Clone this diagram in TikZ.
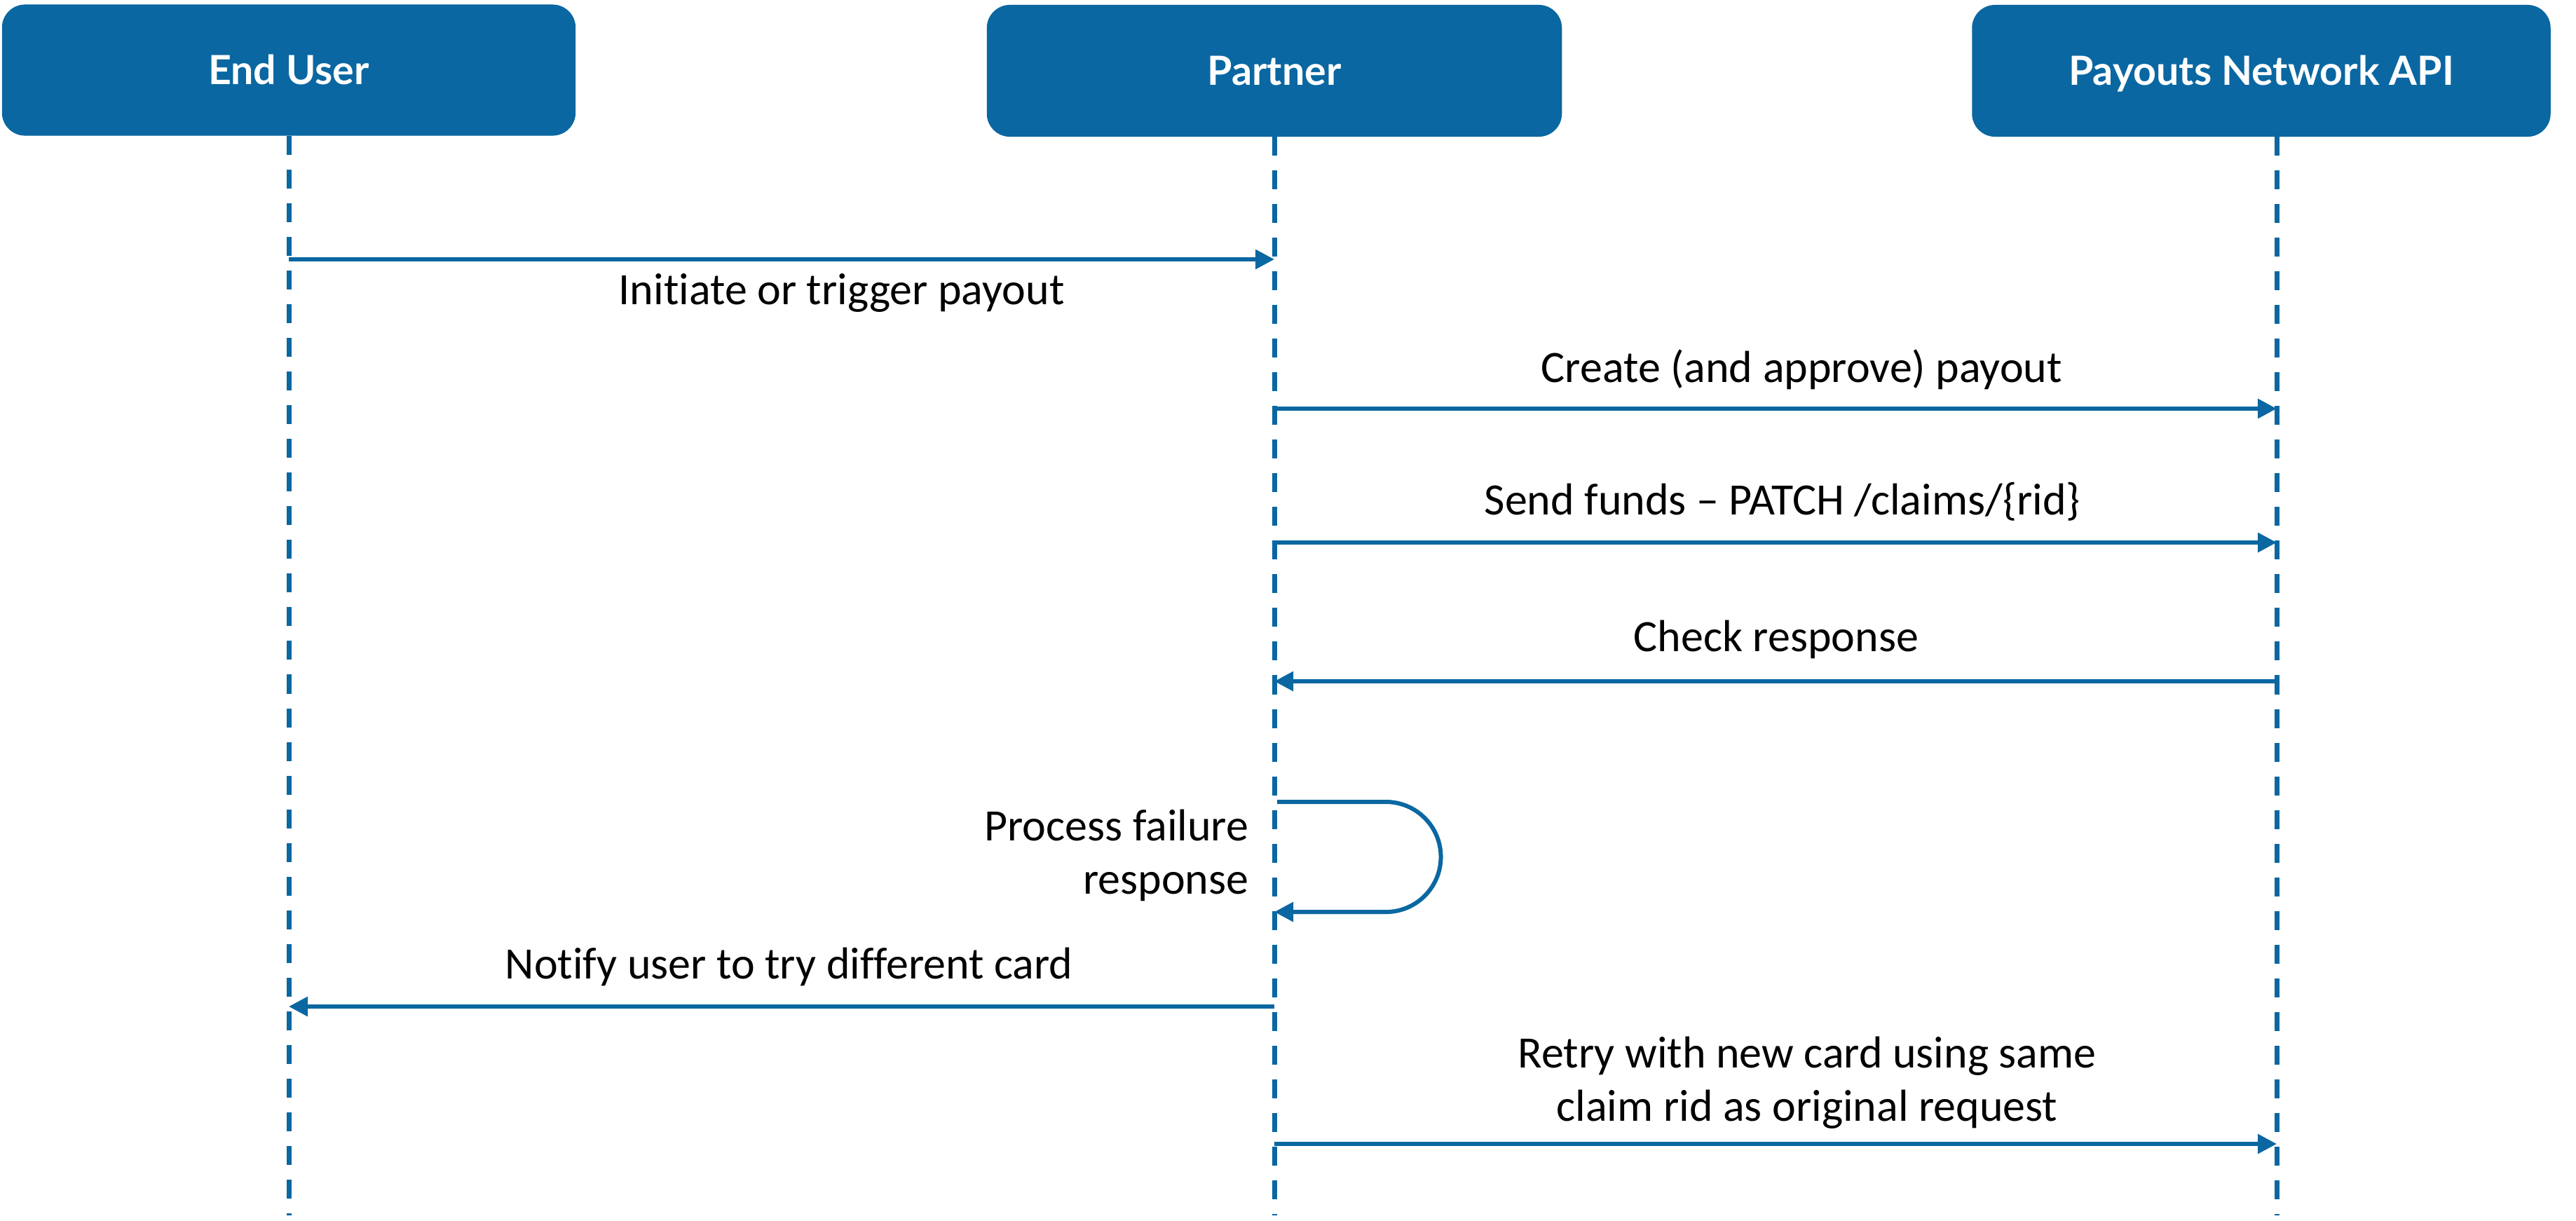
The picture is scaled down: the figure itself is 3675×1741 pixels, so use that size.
\documentclass[tikz,border=0pt]{standalone}
\usepackage{fontspec}
\setmainfont{Carlito}[Ligatures=NoCommon]
\newfontfamily\headfont{Lato}
\usetikzlibrary{arrows.meta}
\definecolor{pblue}{RGB}{10,103,161}
\begin{document}
\begin{tikzpicture}[x=0.01cm, y=-0.01cm,
  actor/.style={fill=pblue, draw=none, rounded corners=0.33cm, text=white,
    font=\headfont\bfseries\fontsize{16.3pt}{19pt}\selectfont,
    text height=0.41cm, text depth=0pt, inner sep=0pt},
  lifeline/.style={draw=pblue, line width=0.07cm, dash pattern=on 0.27cm off 0.21cm},
  msg/.style={draw=pblue, line width=0.06cm, -{Triangle[length=0.27cm,width=0.27cm]}},
  lbl/.style={font=\fontsize{18.2pt}{21.6pt}\selectfont, inner sep=0pt, text=black}]
\useasboundingbox (0,0) rectangle (3675,1741);
\fill[white] (0,0) rectangle (3675,1741);

% actors
\node[actor, minimum width=8.18cm, minimum height=1.87cm] (eu) at (412,100) {End User};
\node[actor, minimum width=8.20cm, minimum height=1.88cm] (pa) at (1818,101) {Partner};
\node[actor, minimum width=8.25cm, minimum height=1.88cm] (pn) at (3226,101) {Payouts Network API};

% lifelines
\coordinate (euT) at (412,194);  \coordinate (euB) at (412,1734);
\coordinate (paT) at (1818,195); \coordinate (paB) at (1818,1734);
\coordinate (pnT) at (3248,195); \coordinate (pnB) at (3248,1734);
\draw[lifeline] (euT) -- (euB);
\draw[lifeline] (paT) -- (paB);
\draw[lifeline] (pnT) -- (pnB);

% message end points
\coordinate (m1a) at (412,370);  \coordinate (m1b) at (1818,370);
\coordinate (m2a) at (1818,583); \coordinate (m2b) at (3248,583);
\coordinate (m3a) at (1818,774); \coordinate (m3b) at (3248,774);
\coordinate (m4a) at (3248,972); \coordinate (m4b) at (1818,972);
\coordinate (m5a) at (1822,1144); \coordinate (m5c) at (1977,1144); \coordinate (m5b) at (1818,1301);
\coordinate (m6a) at (1818,1436); \coordinate (m6b) at (412,1436);
\coordinate (m7a) at (1818,1632); \coordinate (m7b) at (3248,1632);

\draw[msg] (m1a) -- (m1b);
\draw[msg] (m2a) -- (m2b);
\draw[msg] (m3a) -- (m3b);
\draw[msg] (m4a) -- (m4b);
\draw[msg] (m5a) -- (m5c) arc[start angle=90, end angle=-90, radius=0.785cm] -- (m5b);
\draw[msg] (m6a) -- (m6b);
\draw[msg] (m7a) -- (m7b);

% labels
\node[lbl, anchor=base west] (l1) at (882,434) {Initiate or trigger payout};
\node[lbl, anchor=base west] (l2) at (2198,545) {Create (and approve) payout};
\node[lbl, anchor=base west] (l3) at (2117,734) {Send funds \textendash{} PATCH /claims/\{rid\}};
\node[lbl, anchor=base west] (l4) at (2330,929) {Check response};
\node[lbl, anchor=base east, align=right] (l5) at (1782,1275) {Process failure\\response};
\node[lbl, anchor=base west] (l6) at (720,1396) {Notify user to try different card};
\node[lbl, anchor=base, align=center] (l7) at (2578,1599) {Retry with new card using same\\claim rid as original request};
\end{tikzpicture}
\end{document}
